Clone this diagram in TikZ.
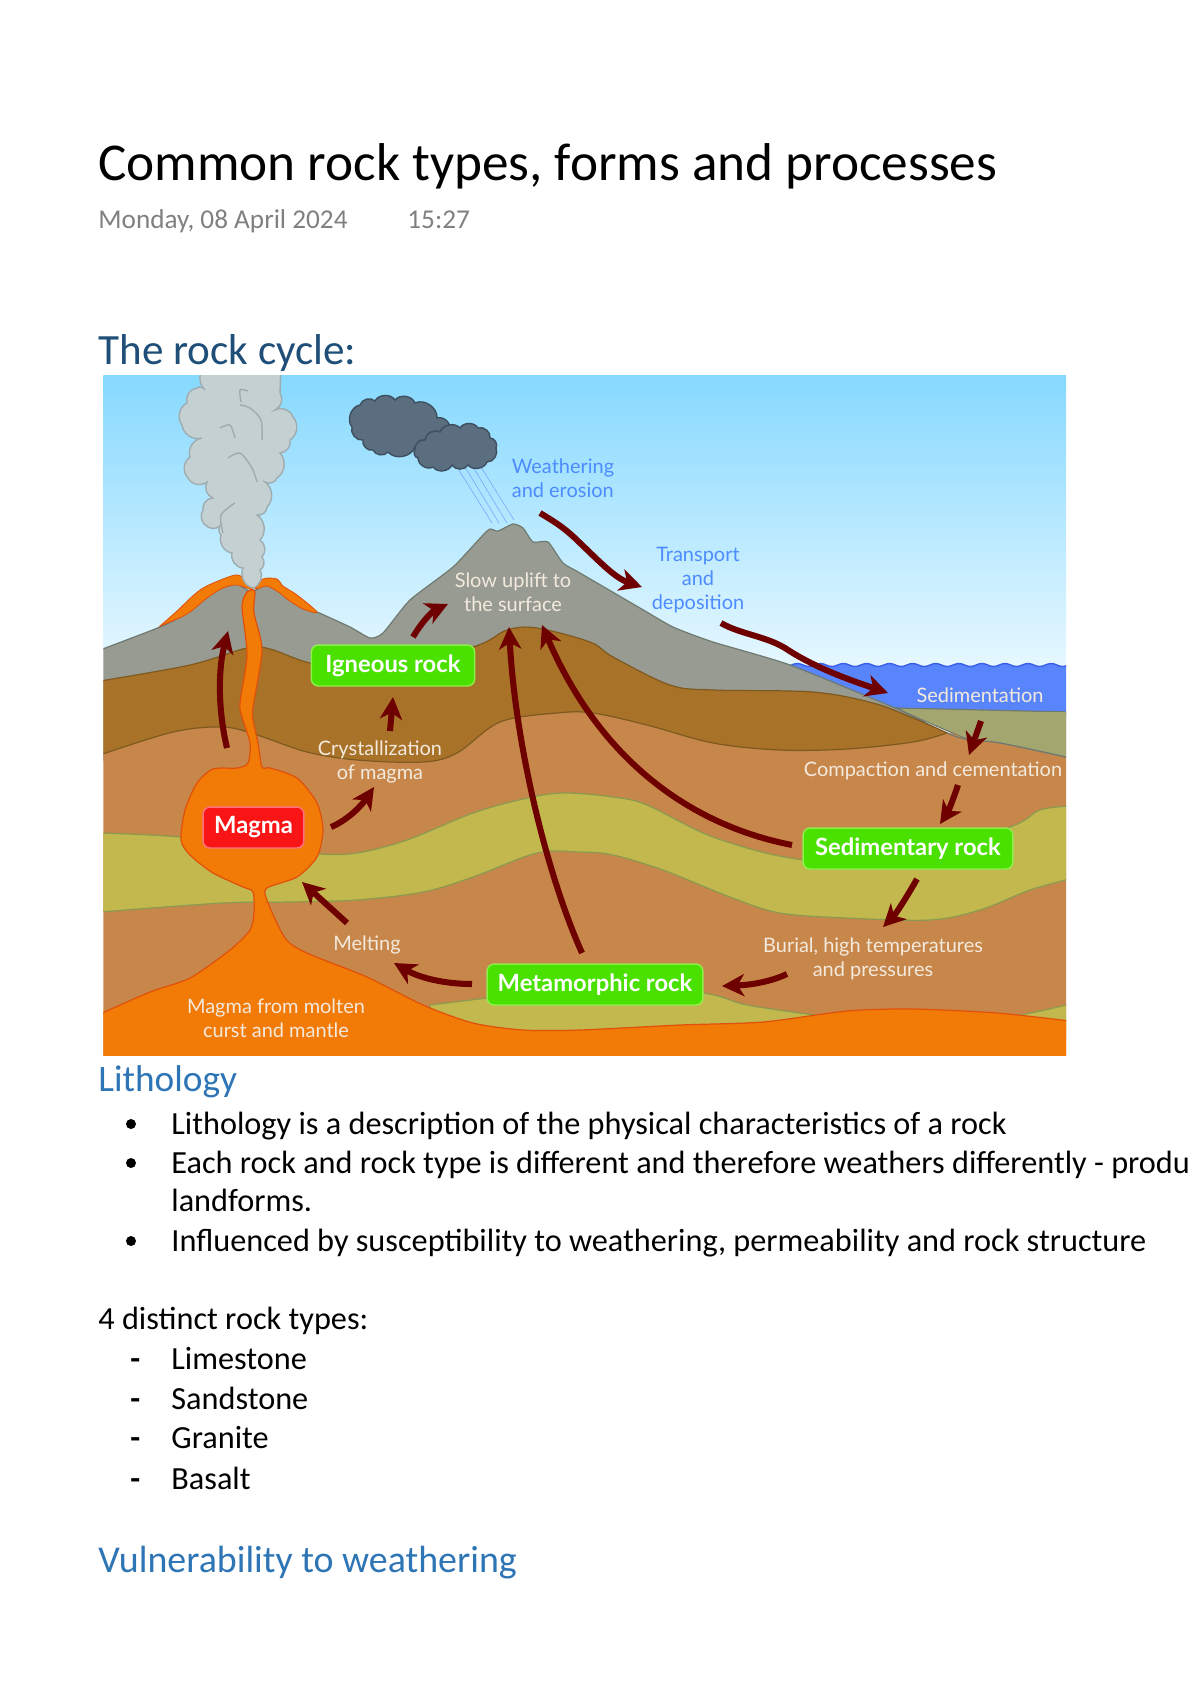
\documentclass[tikz,border=0pt]{standalone}
\usepackage{fontspec}
\setmainfont{Carlito}
\newfontfamily\lat{Lato}
\usetikzlibrary{arrows.meta}
\definecolor{skytop}{HTML}{86D9FF}
\definecolor{skybot}{HTML}{EEFAFF}
\definecolor{grayrock}{HTML}{989B92}
\definecolor{grayedge}{HTML}{6F7A70}
\definecolor{brownrock}{HTML}{A87229}
\definecolor{brownedge}{HTML}{7E5A20}
\definecolor{tanrock}{HTML}{C8874A}
\definecolor{oliverock}{HTML}{C3B84E}
\definecolor{oliveedge}{HTML}{8A9A50}
\definecolor{sediment}{HTML}{A3A66E}
\definecolor{magmaor}{HTML}{F27A06}
\definecolor{magmaedge}{HTML}{E0500A}
\definecolor{water}{HTML}{5885FB}
\definecolor{wave}{HTML}{3A5EE8}
\definecolor{arrowred}{HTML}{6F0000}
\definecolor{smokefill}{HTML}{C5D0D3}
\definecolor{smokeedge}{HTML}{A0ADB0}
\definecolor{cloudfill}{HTML}{5A6E80}
\definecolor{cloudedge}{HTML}{3E4F5F}
\definecolor{labelblue}{HTML}{4D8CFF}
\definecolor{labelpale}{HTML}{F3E9DD}
\definecolor{headdark}{HTML}{1F4E79}
\definecolor{headblue}{HTML}{2E75B6}
\definecolor{boxgreen}{HTML}{4AE000}
\definecolor{boxgreenedge}{HTML}{8CF04A}
\definecolor{boxred}{HTML}{F91515}
\definecolor{boxrededge}{HTML}{FF7080}
\tikzset{
  sm/.style={smooth,tension=0.55},
  layeredge/.style={line width=0.6pt},
  flowarrow/.style={draw=arrowred,line width=3pt,-{Stealth[length=11pt,width=11pt,inset=3.2pt]}},
  rockbox/.style={rounded corners=3.5pt,draw=#1,line width=0.7pt,text=white,font=\lat\bfseries\fontsize{11.8}{14}\selectfont,inner sep=0pt},
  proclabel/.style={text=labelpale,font=\lat\fontsize{9.9}{11.8}\selectfont,align=center,inner sep=0pt},
  bluelabel/.style={text=labelblue,font=\lat\fontsize{9.9}{11.8}\selectfont,inner sep=0pt},
  pagetext/.style={anchor=base west,inner sep=0pt,font=\fontsize{16}{19}\selectfont},
  dashitem/.style={pagetext,font=\fontsize{16}{19}\selectfont\bfseries},
  smokestyle/.style={fill=smokefill,draw=smokeedge,line width=0.7pt},
  smokecurl/.style={draw=smokeedge,line width=0.7pt},
  cloudstyle/.style={fill=cloudfill,draw=cloudedge,line width=0.7pt},
  rainline/.style={draw=labelblue!75,line width=0.3pt}
}
\begin{document}
\begin{tikzpicture}[x=0.496pt,y=-0.496pt]
\useasboundingbox (0,0) rectangle (1200,1698);
\fill[white] (0,0) rectangle (1200,1698);

% page text
\node[pagetext,font=\fontsize{26.4}{30}\selectfont] (title) at (98,180) {Common rock types, forms and processes};
\node[pagetext,font=\fontsize{13.5}{16}\selectfont,text=black!50] (date) at (98,228) {Monday, 08 April 2024};
\node[pagetext,font=\fontsize{13.5}{16}\selectfont,text=black!50] (time) at (407,228) {15:27};
\node[pagetext,font=\fontsize{21.4}{24}\selectfont,text=headdark] (h1) at (98,364) {The rock cycle:};

\begin{scope}
\clip (103.3,375.5) rectangle (1066,1055.7);
% sky
\shade[top color=skytop,bottom color=skybot] (103,375) rectangle (1066,690);
% water
\fill[water] plot[domain=780:1070,samples=120] (\x,{665+1.5*sin((\x-780)*15.6)}) -- (1070,715) -- (880,715) -- cycle;
\draw[wave,line width=0.7pt] plot[domain=790:1070,samples=120] (\x,{665+1.5*sin((\x-780)*15.6)});
% sediment
\path[fill=sediment,draw=grayedge,layeredge] plot[sm] coordinates {(897,708) (970,740) (1000,743) (1070,758)} -- (1070,712) -- cycle;
\fill[sediment] (900,710) -- (947,712) -- (1070,712) -- (1070,756) -- (1000,742) -- (970,739) -- cycle;
% gray mountains
\path[fill=grayrock,draw=grayedge,layeredge] plot[smooth,tension=0.35] coordinates {(100,650) (160,627) (187,613) (207,597) (223,587) (237,584) (247,590) (253,592) (260,587) (267,585) (280,592) (287,598) (303,608) (317,612) (350,627) (370,638) (383,633) (410,600) (453,567) (483,535) (490,529) (498,531) (513,524) (523,528) (533,542) (548,542) (563,563) (580,573) (640,608) (673,627) (713,642) (790,665) (900,710) (925,722)} -- (925,760) -- (100,760) -- cycle;
% tan under the brown layer
\fill[tanrock] plot[sm] coordinates {(100,755) (173,732) (223,727) (257,735) (307,752) (357,760) (423,762) (457,753) (500,722) (557,713) (590,710) (647,725) (713,743) (780,750) (847,749) (913,742) (947,733) (970,740) (1000,743) (1070,758)} -- (1070,1060) -- (100,1060) -- cycle;
\draw[grayedge,layeredge] plot[sm] coordinates {(900,710) (947,733) (970,740) (1000,743) (1070,758)};
% brown layer
\path[fill=brownrock,draw=brownedge,layeredge] plot[sm] coordinates {(100,681) (190,665) (247,648) (270,649) (310,663) (370,672) (473,647) (507,630) (537,628) (590,642) (613,657) (670,685) (713,690) (813,692) (873,703) (913,718) (947,733)} -- plot[sm] coordinates {(947,733) (913,742) (847,749) (780,750) (713,743) (647,725) (593,713) (557,713) (500,722) (457,753) (423,762) (357,760) (307,752) (257,735) (223,727) (173,732) (100,755)} -- cycle;
% olive band
\path[fill=oliverock,draw=oliveedge,layeredge] plot[sm] coordinates {(100,833) (180,837) (250,848) (320,854) (357,853) (407,840) (473,813) (523,799) (563,793) (613,797) (647,805) (713,837) (797,859) (900,862) (1010,827) (1040,810) (1070,806)} -- plot[sm] coordinates {(1070,879) (1030,890) (980,910) (930,920) (847,918) (780,913) (730,897) (663,870) (613,855) (580,852) (537,853) (473,877) (423,892) (357,900) (290,902) (223,903) (100,912)} -- cycle;
% lower olive
\path[fill=oliverock,draw=oliveedge,layeredge] plot[sm] coordinates {(430,1005) (487,998) (600,985) (703,993) (747,1005) (815,1015)} -- (815,1040) -- (430,1040) -- cycle;
\path[fill=oliverock,draw=oliveedge,layeredge] plot[sm] coordinates {(1020,1015) (1045,1010) (1070,1004)} -- (1070,1035) -- (1020,1035) -- cycle;
% magma body
\path[fill=magmaor,draw=magmaedge,line width=0.6pt] plot[smooth,tension=0.45] coordinates {(100,1014) (150,992) (190,978) (230,950) (250,930) (254,913) (253,892) (243,887) (213,873) (190,855) (181,840) (185,810) (197,783) (213,769) (237,768) (248,763) (250,743) (242,717) (240,703) (247,655) (242,607) (247,592) (253,590) (255,593) (254,613) (262,650) (253,707) (253,720) (258,743) (262,767) (270,768) (297,778) (317,803) (323,830) (317,857) (297,877) (267,888) (267,900) (285,938) (307,953) (367,977) (423,1005) (473,1023) (523,1030) (580,1030) (680,1025) (763,1022) (847,1011) (913,1009) (997,1013) (1070,1021)} -- (1070,1062) -- (100,1062) -- cycle;
% lava on the flanks
\path[fill=magmaor,draw=magmaedge,line width=0.4pt] plot[sm] coordinates {(160,626) (177,611) (200,590) (223,579) (238,575) (247,582) (253,590) (237,585) (223,588) (207,598) (187,614) (160,626)} -- cycle;
\path[fill=magmaor,draw=magmaedge,line width=0.4pt] plot[sm] coordinates {(255,589) (263,579) (277,579) (283,586) (297,595) (317,612) (303,609) (287,599) (280,593) (267,586) (260,588) (255,589)} -- cycle;
% smoke
\draw[smokestyle,every to/.style={bend left=50}] (253,588) to (243,568) to (232,553) to (221,535) to (222,523) to (208,527) to (203,510) to (213,498) to (207,482) to (188,478) to (190,457) to (202,438) to (182,425) to (187,403) to (197,388) to (205,390) to (206,365) -- (281,365) -- (280,393) to (275,410) to (293,417) to (290,440) to (280,453) to (277,478) to (265,482) to (267,507) to (257,515) to (260,540) to (262,557) to (260,570) to (253,588) -- cycle;
\draw[smokecurl] plot[smooth] coordinates {(241,402) (240,390) (248,391)};
\draw[smokecurl] plot[smooth] coordinates {(240,405) (250,408) (261,420) (262,440)};
\draw[smokecurl] plot[smooth] coordinates {(220,428) (230,425) (235,438)};
\draw[smokecurl] plot[smooth] coordinates {(228,458) (240,453) (252,468) (257,482)};
\draw[smokecurl] plot[smooth] coordinates {(223,533) (221,515) (235,503)};
% rain
\draw[rainline] (457,467) -- (492,523);
\draw[rainline] (465,467) -- (499,523);
\draw[rainline] (473,467) -- (507,523);
\draw[rainline] (481,467) -- (514,520);
% clouds
\draw[cloudstyle,every to/.style={bend left=60}] (352,427) to (360,405) to (375,401) to (395,400) to (415,403) to (437,418) to (450,430) to (423,443) to (415,447) to (388,452) to (373,450) to (363,440) to (352,427) -- cycle;
\draw[cloudstyle,every to/.style={bend left=60}] (415,450) to (425,440) to (440,432) to (460,428) to (478,428) to (490,438) to (496,448) to (487,462) to (468,465) to (452,465) to (433,467) to (418,458) to (415,450) -- cycle;
\end{scope}

% rock boxes
\node[rockbox=boxgreenedge,fill=boxgreen,minimum width=81pt,minimum height=20.3pt] (igneous) at (393,665.5) {\raisebox{-0.4pt}{Igneous rock}};
\node[rockbox=boxrededge,fill=boxred,minimum width=50pt,minimum height=20.3pt] (magma) at (253.5,827.5) {\raisebox{-0.8pt}{Magma}};
\node[rockbox=boxgreenedge,fill=boxgreen,minimum width=107pt,minimum height=20.3pt] (meta) at (595,984.5) {\raisebox{-0.4pt}{Metamorphic rock}};
\node[rockbox=boxgreenedge,fill=boxgreen,minimum width=104pt,minimum height=20.3pt] (sedi) at (908,848.5) {\raisebox{-0.4pt}{Sedimentary rock}};

% process labels
\node[bluelabel,align=left] (weath) at (563,478.5) {Weathering\\and erosion};
\node[bluelabel,align=center] (trans) at (698,580) {Transport\\and\\deposition};
\node[proclabel] (slow) at (513,592) {Slow uplift to\\the surface};
\node[proclabel] (sedim) at (980,695.5) {Sedimentation};
\node[proclabel] (cryst) at (380,762) {Crystallization\\of magma};
\node[proclabel] (compact) at (933,771) {Compaction and cementation};
\node[proclabel] (melt) at (367,944.5) {Melting};
\node[proclabel] (burial) at (873,959) {Burial, high temperatures\\and pressures};
\node[proclabel] (molten) at (276,1018) {Magma from molten\\curst and mantle};

% arrow end points
\coordinate (a1s) at (227,748); \coordinate (a1e) at (228,631);
\coordinate (a2s) at (413,637); \coordinate (a2e) at (448,604);
\coordinate (a3s) at (390,731); \coordinate (a3e) at (393,697);
\coordinate (a4s) at (331,827); \coordinate (a4e) at (374,787);
\coordinate (a5s) at (347,923); \coordinate (a5e) at (302,882);
\coordinate (a6s) at (472,984); \coordinate (a6e) at (394,963);
\coordinate (a7s) at (787,974); \coordinate (a7e) at (722,986);
\coordinate (a8s) at (917,879); \coordinate (a8e) at (883,927);
\coordinate (a9s) at (958,785); \coordinate (a9e) at (940,824);
\coordinate (a10s) at (981,721); \coordinate (a10e) at (969,755);
\coordinate (a11s) at (792,845); \coordinate (a11e) at (542,625);
\coordinate (a12s) at (582,953); \coordinate (a12e) at (509,627);
\coordinate (a13s) at (540,513); \coordinate (a13e) at (642,587);
\coordinate (a14s) at (721,623); \coordinate (a14e) at (888,693);
% arrows
\draw[flowarrow] (a1s) .. controls (218,710) and (218,670) .. (a1e);
\draw[flowarrow] (a2s) .. controls (423,620) and (433,611) .. (a2e);
\draw[flowarrow] (a3s) -- (a3e);
\draw[flowarrow] (a4s) .. controls (348,820) and (362,805) .. (a4e);
\draw[flowarrow] (a5s) -- (a5e);
\draw[flowarrow] (a6s) .. controls (445,984) and (420,978) .. (a6e);
\draw[flowarrow] (a7s) .. controls (770,982) and (750,985) .. (a7e);
\draw[flowarrow] (a8s) .. controls (905,900) and (895,915) .. (a8e);
\draw[flowarrow] (a9s) .. controls (953,800) and (948,812) .. (a9e);
\draw[flowarrow] (a10s) -- (a10e);
\draw[flowarrow] (a11s) .. controls (690,825) and (600,760) .. (a11e);
\draw[flowarrow] (a12s) .. controls (545,870) and (515,740) .. (a12e);
\draw[flowarrow] (a13s) .. controls (555,522) and (565,528) .. (580,543) .. controls (600,562) and (615,578) .. (a13e);
\draw[flowarrow] (a14s) .. controls (740,634) and (765,636) .. (785,648) .. controls (815,668) and (850,680) .. (a14e);

% lower text
\node[pagetext,font=\fontsize{18.5}{21}\selectfont,text=headblue] (h2) at (98,1091) {Lithology};
\fill (131,1124) circle (5);
\node[pagetext] (b1) at (171,1134) {Lithology is a description of the physical characteristics of a rock};
\fill (131,1163) circle (5);
\node[pagetext] (b2) at (171,1173) {Each rock and rock type is different and therefore weathers differently - produ};
\node[pagetext] (b2b) at (171,1211) {landforms.};
\fill (131,1241) circle (5);
\node[pagetext] (b3) at (171,1251) {Influenced by susceptibility to weathering, permeability and rock structure};
\node[pagetext] (four) at (98,1329) {4 distinct rock types:};
\node[dashitem] (d1) at (130,1369) {-};
\node[pagetext] (l1) at (171,1369) {Limestone};
\node[dashitem] (d2) at (130,1409) {-};
\node[pagetext] (l2) at (171,1409) {Sandstone};
\node[dashitem] (d3) at (130,1448) {-};
\node[pagetext] (l3) at (171,1448) {Granite};
\node[dashitem] (d4) at (130,1489) {-};
\node[pagetext] (l4) at (171,1489) {Basalt};
\node[pagetext,font=\fontsize{18.8}{22}\selectfont,text=headblue] (h3) at (98,1572) {Vulnerability to weathering};
\end{tikzpicture}
\end{document}
